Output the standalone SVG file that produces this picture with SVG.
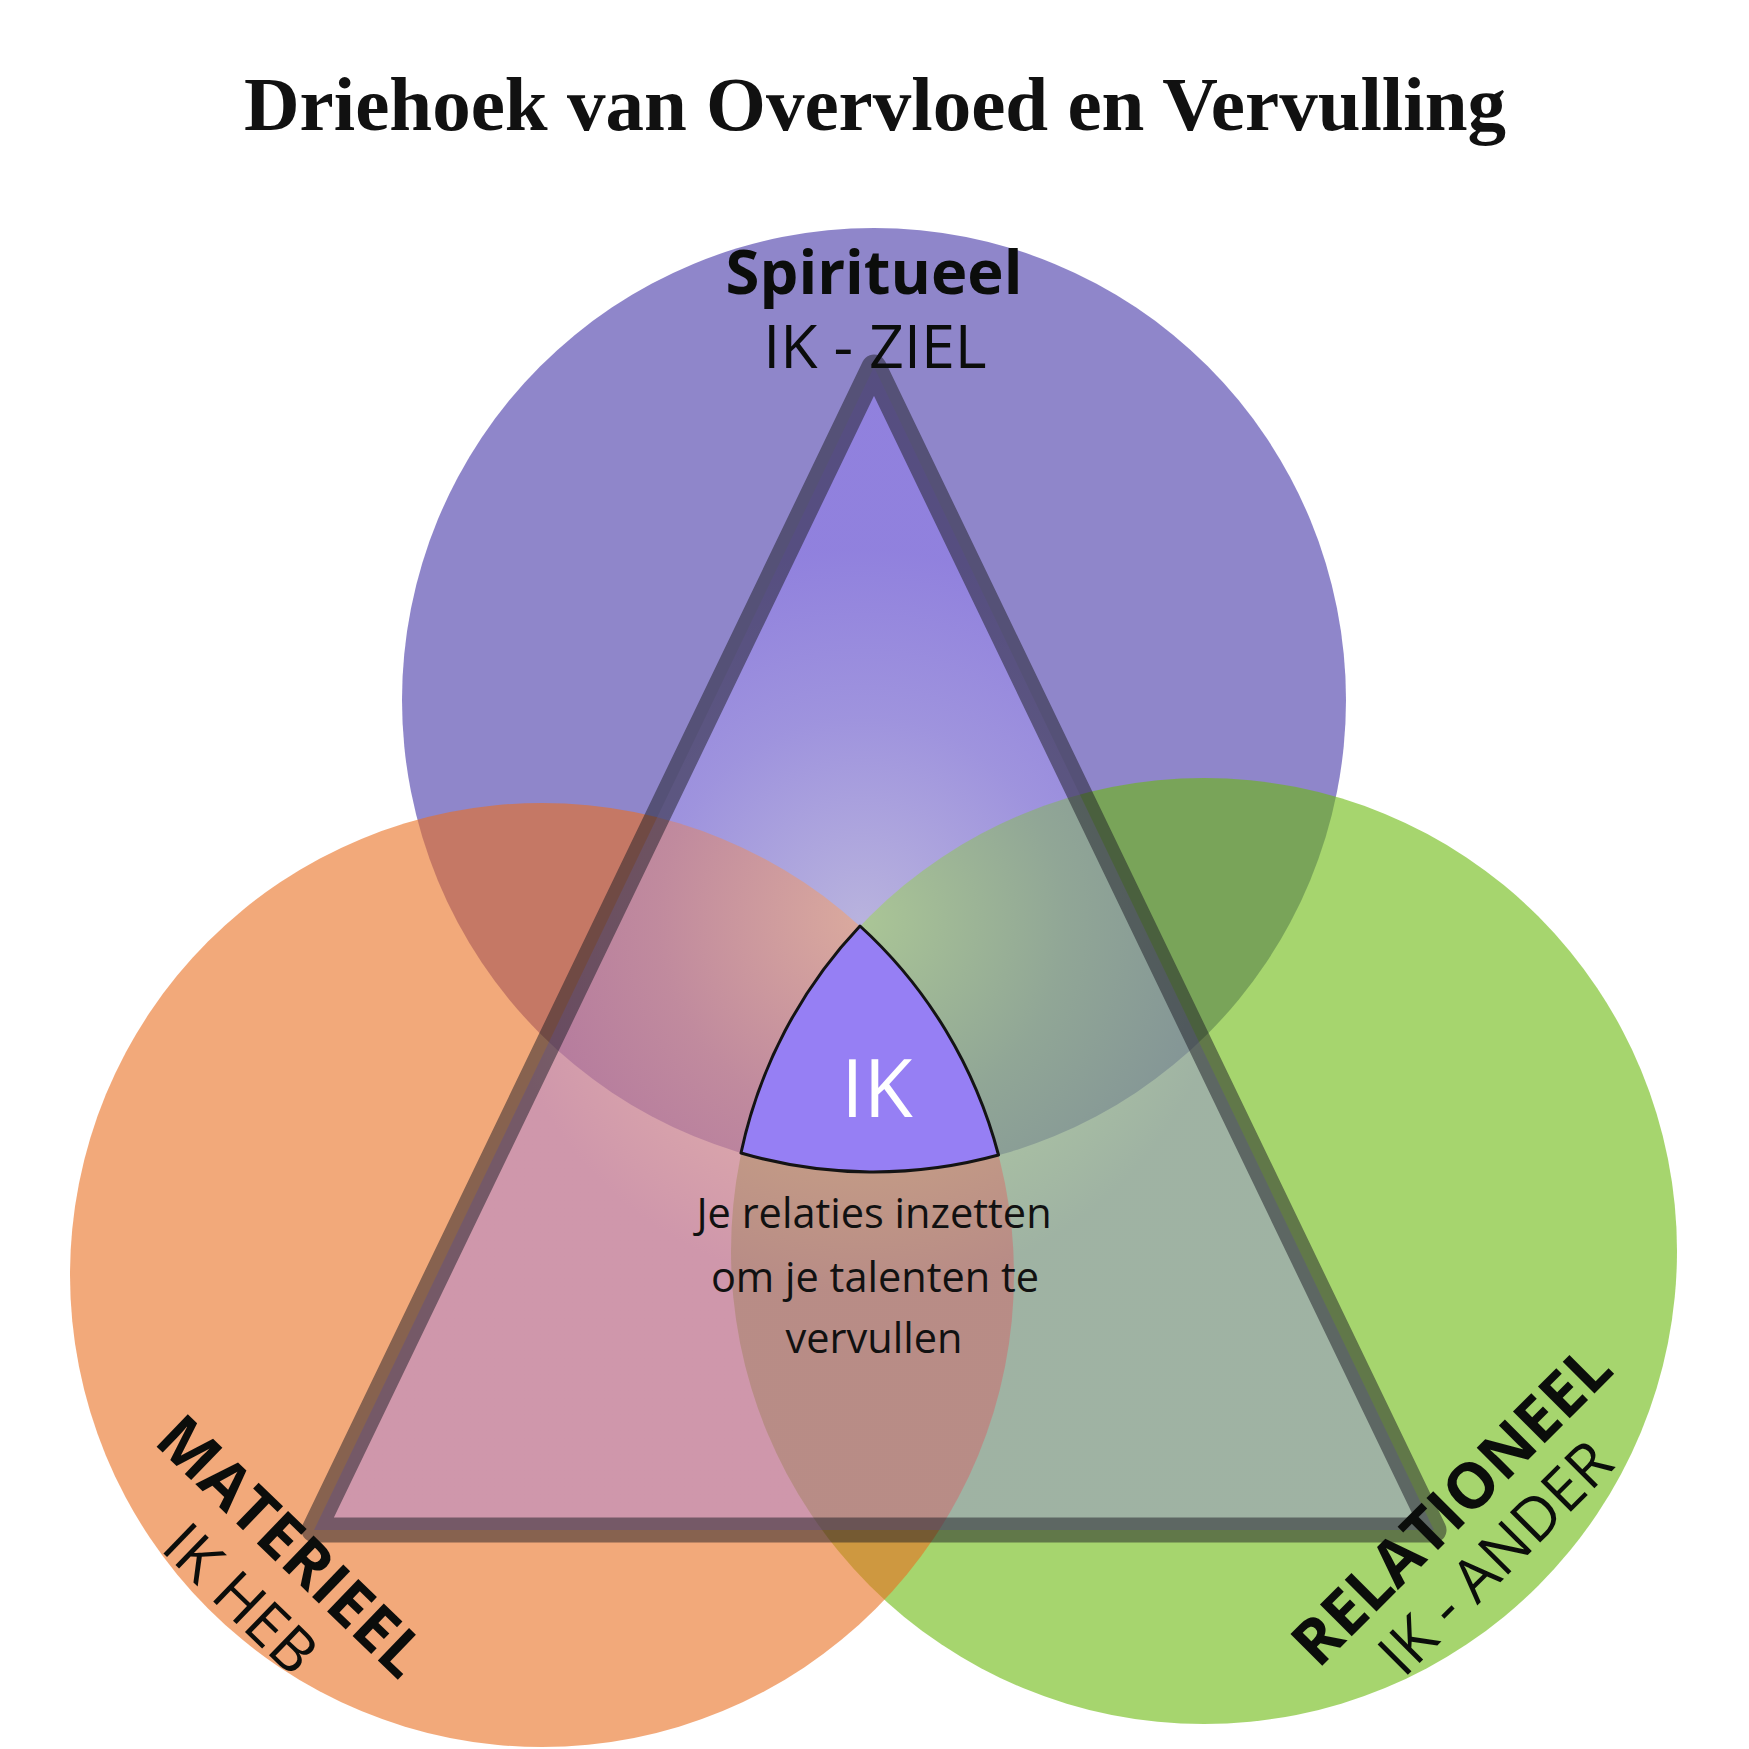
<svg xmlns="http://www.w3.org/2000/svg" width="1749" height="1749" viewBox="0 0 1749 1749">
  <style>
    .title { font-family: "Liberation Serif", "DejaVu Serif", serif; font-weight: bold; font-size: 77px; fill: #111111; }
    .lbl-b { font-family: "Open Sans", "Noto Sans", sans-serif; font-weight: bold; font-size: 63px; fill: #0b0d0b; }
    .lbl-r { font-family: "Open Sans", "Noto Sans", sans-serif; font-size: 60px; fill: #0b0d0b; }
    .top-b { font-size: 61.5px; }
    .top-r { font-size: 61px; }
    .body { font-family: "Open Sans", "Noto Sans", sans-serif; font-size: 41.5px; fill: #111111; }
    .ik { font-family: "Open Sans", "Noto Sans", sans-serif; font-size: 80px; fill: #ffffff; }
    .circ { fill-opacity: 0.6; }
  </style>
  <defs>
    <radialGradient id="glow" gradientUnits="userSpaceOnUse" cx="862" cy="920" r="370">
      <stop offset="0" stop-color="#ffffff"/>
      <stop offset="0.55" stop-color="#b9aaff"/>
      <stop offset="1" stop-color="#9378ff"/>
    </radialGradient>
  </defs>
  <rect width="1749" height="1749" fill="#ffffff"/>

  <text class="title" x="875" y="130" text-anchor="middle">Driehoek van Overvloed en Vervulling</text>

  <g id="spiritueel">
    <circle class="circ" cx="874" cy="700" r="472" fill="#4435a7"/>
  </g>
  <g id="relationeel">
    <circle class="circ" cx="1204" cy="1251" r="473" fill="#6bb90d"/>
  </g>
  <g id="materieel">
    <circle class="circ" cx="542" cy="1275" r="472" fill="#e97021"/>
  </g>

  <g id="connectors">
    <path d="M874 367 L1434 1530 L314 1530 Z" fill="url(#glow)" fill-opacity="0.37" stroke="#1c1b23" stroke-opacity="0.5" stroke-width="25" stroke-linejoin="round"/>
  </g>

  <g id="ik">
    <path d="M860 926 A473 473 0 0 0 741 1153 A472 472 0 0 0 998.5 1155 A472 472 0 0 0 860 926 Z" fill="#967ff4" stroke="#141414" stroke-width="3" stroke-linejoin="round"/>
    <text class="ik" x="877" y="1117" text-anchor="middle">IK</text>
  </g>

  <g id="center-text">
    <text class="body" x="874" y="1228" text-anchor="middle">Je relaties inzetten</text>
    <text class="body" x="875" y="1292" text-anchor="middle">om je talenten te</text>
    <text class="body" x="874" y="1353" text-anchor="middle">vervullen</text>
  </g>

  <g id="label-spiritueel">
    <text class="lbl-b top-b" x="874" y="294" text-anchor="middle">Spiritueel</text>
    <text class="lbl-r top-r" x="875" y="368" text-anchor="middle">IK - ZIEL</text>
  </g>

  <g id="label-materieel" transform="translate(276 1562) rotate(44)">
    <text class="lbl-b" x="0" y="0" text-anchor="middle">MATERIEEL</text>
    <text class="lbl-r" x="0" y="72" text-anchor="middle">IK HEB</text>
  </g>

  <g id="label-relationeel" transform="translate(1467 1521) rotate(-45)">
    <text class="lbl-b" x="0" y="0" text-anchor="middle">RELATIONEEL</text>
    <text class="lbl-r" x="-6" y="67" text-anchor="middle">IK - ANDER</text>
  </g>
</svg>
